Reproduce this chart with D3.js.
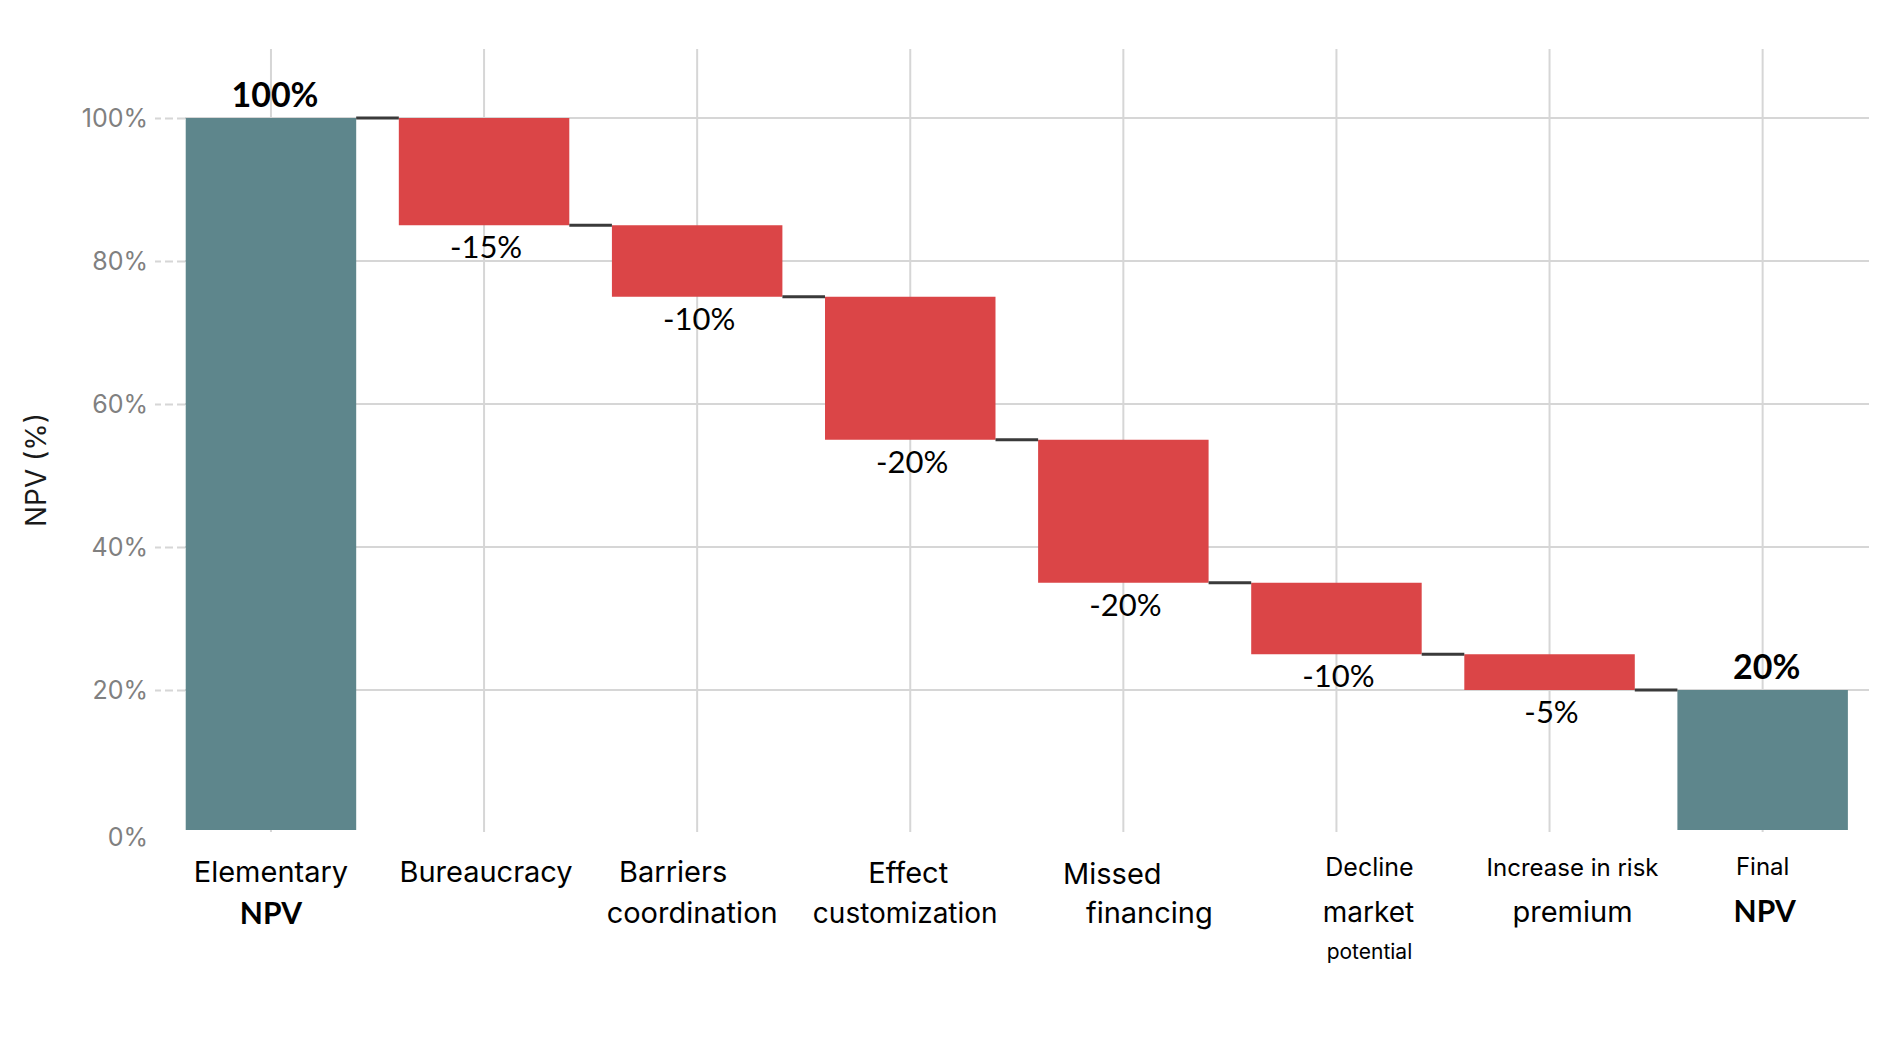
<!DOCTYPE html>
<html>
<head>
<meta charset="utf-8">
<script src="https://cdn.jsdelivr.net/npm/d3@7"></script>
<style>
  html, body { margin: 0; padding: 0; background: #fff; }
  svg { display: block; }
</style>
</head>
<body>
<svg id="chart"></svg>
<script>
// Waterfall steps (percent of elementary NPV)
const categories = ['Elementary NPV', 'Bureaucracy', 'Barriers coordination', 'Effect customization',
                    'Missed financing', 'Decline market potential', 'Increase in risk premium', 'Final NPV'];
const changes = [100, -15, -10, -20, -20, -10, -5, null];   // null = total bar
const labelLines = [
    ['Elementary', 'NPV'],
    ['Bureaucracy'],
    ['Barriers', 'coordination'],
    ['Effect', 'customization'],
    ['Missed', 'financing'],
    ['Decline', 'market', 'potential'],
    ['Increase in risk', 'premium'],
    ['Final', 'NPV']
];
const yTicks = [0, 20, 40, 60, 80, 100];

// per-line look of the category labels (size, weight, x shift, baseline)
const lineStyle = [
    [{ s: 29, y: 882 }, { s: 30, b: true, y: 924 }],
    [{ s: 29, dx: 2, y: 882 }],
    [{ s: 29, dx: -24, y: 882 }, { s: 29, dx: -5, y: 923 }],
    [{ s: 29, dx: -2, y: 883 }, { s: 28, dx: -5, y: 923 }],
    [{ s: 29, dx: -11, y: 884 }, { s: 29, dx: 26, y: 923 }],
    [{ s: 25, dx: 33, y: 876 }, { s: 28, dx: 32, y: 922 }, { s: 21, dx: 33, y: 959 }],
    [{ s: 24, dx: 23, y: 876 }, { s: 29, dx: 23, y: 922 }],
    [{ s: 24, y: 875 }, { s: 30, b: true, dx: 2, y: 922 }]
];

const W = 1896, H = 1053;
const svg = d3.select('#chart').attr('width', W).attr('height', H);

const panel = { left: 155, right: 1869, top: 49, bottom: 830 };

const x = d3.scaleBand()
    .domain(categories)
    .range([143.1, 1890.5])
    .padding(0.2);

const y = d3.scaleLinear()
    .domain([0, 100])
    .range([833, 118]);

// build the running steps
let running = 0;
const steps = categories.map((c, i) => {
    const ch = changes[i];
    let start, end, total;
    if (i === 0) { start = 0; end = ch; total = true; }
    else if (ch === null) { start = 0; end = running; total = true; }
    else { start = running; end = running + ch; total = false; }
    running = end;
    return { cat: c, start, end, total, change: ch === null ? running : ch };
});

svg.append('defs').append('clipPath').attr('id', 'clip')
    .append('rect')
    .attr('x', panel.left).attr('y', panel.top)
    .attr('width', panel.right - panel.left)
    .attr('height', panel.bottom - panel.top);

// gridlines
svg.append('g')
    .selectAll('line')
    .data(yTicks.filter(d => d > 0))
    .join('line')
    .attr('x1', panel.left + 30).attr('x2', panel.right)
    .attr('y1', d => y(d)).attr('y2', d => y(d))
    .attr('stroke', '#d6d6d6').attr('stroke-width', 2);

svg.append('g')
    .selectAll('line')
    .data(categories)
    .join('line')
    .attr('x1', d => x(d) + x.bandwidth() / 2).attr('x2', d => x(d) + x.bandwidth() / 2)
    .attr('y1', panel.top).attr('y2', panel.bottom + 2)
    .attr('stroke', '#d6d6d6').attr('stroke-width', 2);

// y axis
const yAxis = svg.append('g')
    .attr('transform', `translate(${panel.left + 30},0)`)
    .call(d3.axisLeft(y).tickValues(yTicks).tickFormat(d => d + '%').tickSize(30).tickPadding(7));
yAxis.select('.domain').remove();
yAxis.selectAll('.tick line').attr('stroke', '#d6d6d6').attr('stroke-width', 2)
    .attr('stroke-dasharray', d => d === 0 ? '0 40' : '8 4');
yAxis.selectAll('.tick text')
    .attr('fill', '#808080')
    .attr('dy', d => d === 0 ? '0.5em' : '0.32em')
    .style('font-family', 'Inter, "Noto Sans", sans-serif')
    .style('font-size', '25px');

svg.append('text')
    .attr('transform', `translate(46,${470}) rotate(-90)`)
    .attr('text-anchor', 'middle')
    .style('font-family', 'Inter, "Noto Sans", sans-serif')
    .style('font-size', '28px')
    .attr('fill', '#1a1a1a')
    .text('NPV (%)');

// bars
const bars = svg.append('g').attr('clip-path', 'url(#clip)');
bars.selectAll('rect')
    .data(steps)
    .join('rect')
    .attr('x', d => x(d.cat))
    .attr('width', x.bandwidth())
    .attr('y', d => y(Math.max(d.start, d.end)))
    .attr('height', d => Math.abs(y(d.start) - y(d.end)))
    .attr('fill', d => d.total ? '#5e868c' : '#db4547');

// connectors
svg.append('g')
    .selectAll('line')
    .data(steps.slice(0, -1))
    .join('line')
    .attr('x1', d => x(d.cat) + x.bandwidth())
    .attr('x2', (d, i) => x(categories[i + 1]))
    .attr('y1', d => y(d.end)).attr('y2', d => y(d.end))
    .attr('stroke', '#3a3a3a').attr('stroke-width', 3);

// value labels
svg.append('g')
    .selectAll('text')
    .data(steps)
    .join('text')
    .attr('x', d => x(d.cat) + x.bandwidth() / 2 + (d.total ? 4 : 2))
    .attr('y', d => d.total ? y(d.end) - 11 : y(d.end) + 33)
    .attr('text-anchor', 'middle')
    .style('font-family', 'Lato, "Open Sans", sans-serif')
    .style('font-size', d => d.total ? '34px' : '31px')
    .style('font-weight', d => d.total ? 'bold' : 'normal')
    .attr('fill', '#000')
    .text(d => d.total ? `${d.end}%` : `${d.change}%`);

// category labels
const cats = svg.append('g');
labelLines.forEach((lines, i) => {
    lines.forEach((t, j) => {
        const st = lineStyle[i][j];
        cats.append('text')
            .attr('x', x(categories[i]) + x.bandwidth() / 2 + (st.dx || 0))
            .attr('y', st.y)
            .attr('text-anchor', 'middle')
            .style('font-family', st.b ? 'Lato, "Open Sans", sans-serif' : 'Inter, "Noto Sans", sans-serif')
            .style('font-size', st.s + 'px')
            .style('font-weight', st.b ? 'bold' : 'normal')
            .attr('fill', '#000')
            .text(t);
    });
});
</script>
</body>
</html>
